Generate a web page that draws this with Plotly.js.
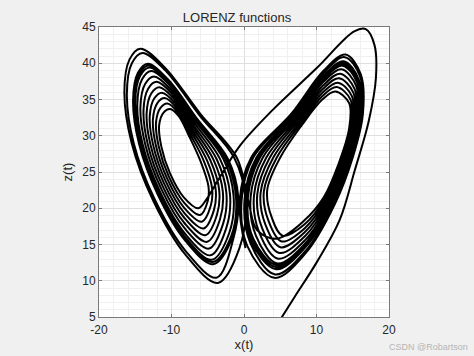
<!DOCTYPE html>
<html>
<head>
<meta charset="utf-8">
<script src="https://cdn.plot.ly/plotly-3.0.1.min.js"></script>
<style>html,body{margin:0;padding:0;background:#f0f0f0;}#chart{width:474px;height:356px;}</style>
</head>
<body>
<div id="chart"></div>
<script>
// Trajectory, in the order it is traced
var transientX = [4.6, 7.0, 10.0, 13.2, 15.3, 17.2, 18.2, 18.0, 16.8, 15.2, 10.0, 4.0, -0.5, -3.5, -5.2];
var transientZ = [4.0, 7.8, 12.5, 18.4, 25.3, 32.0, 38.0, 42.5, 44.7, 44.4, 39.3, 33.6, 28.7, 24.0, 21.2];

var leftX = [
-6.3,-8.3,-10.2,-11.4,-11.7,-11.1,-10.2,-9.0,-7.6,-6.0,-4.9,-5.0,
-6.06,-8.27,-10.41,-11.77,-12.13,-11.52,-10.57,-9.18,-7.46,-5.55,-4.41,-4.58,
-5.81,-8.25,-10.61,-12.14,-12.56,-11.95,-10.94,-9.36,-7.31,-5.10,-3.91,-4.15,
-5.57,-8.22,-10.82,-12.51,-13.00,-12.37,-11.31,-9.54,-7.17,-4.65,-3.42,-3.73,
-5.33,-8.19,-11.03,-12.88,-13.43,-12.79,-11.68,-9.72,-7.02,-4.20,-2.92,-3.31,
-5.09,-8.17,-11.24,-13.25,-13.86,-13.22,-12.05,-9.90,-6.88,-3.75,-2.43,-2.89,
-4.84,-8.14,-11.44,-13.61,-14.29,-13.64,-12.41,-10.08,-6.74,-3.30,-1.93,-2.46,
-4.60,-8.11,-11.65,-13.98,-14.72,-14.06,-12.78,-10.26,-6.59,-2.85,-1.44,-2.04,
-4.44,-8.09,-11.79,-14.23,-15.01,-14.34,-13.03,-10.38,-6.50,-2.55,-1.11,-1.76,
-4.36,-8.08,-11.86,-14.35,-15.16,-14.48,-13.15,-10.44,-6.45,-2.40,-0.94,-1.62,
-4.28,-8.08,-11.93,-14.48,-15.30,-14.63,-13.28,-10.50,-6.40,-2.25,-0.78,-1.48,
-3.79,-8.02,-12.34,-15.21,-16.16,-15.47,-14.01,-10.86,-6.11,-1.35,0.22,-0.63,
-3.6,-8.0,-12.5,-15.5,-16.5,-15.8,-14.3,-11.0,-6.0,-1.0,0.6];
var leftZ = [
20.0,21.5,24.8,28.5,31.5,33.2,33.7,32.7,30.0,26.5,23.0,21.0,
19.07,20.78,24.46,28.55,31.91,33.86,34.45,33.31,30.27,26.55,22.82,20.37,
18.15,20.06,24.12,28.59,32.31,34.51,35.19,33.92,30.54,26.59,22.64,19.74,
17.22,19.34,23.77,28.64,32.72,35.17,35.94,34.54,30.81,26.64,22.46,19.11,
16.29,18.62,23.43,28.68,33.12,35.83,36.69,35.15,31.08,26.68,22.28,18.48,
15.37,17.90,23.09,28.73,33.53,36.49,37.44,35.76,31.35,26.73,22.10,17.85,
14.44,17.18,22.75,28.77,33.93,37.14,38.18,36.37,31.62,26.77,21.92,17.22,
13.51,16.46,22.41,28.82,34.34,37.80,38.93,36.98,31.89,26.82,21.74,16.59,
12.89,15.98,22.18,28.85,34.61,38.24,39.43,37.39,32.07,26.85,21.62,16.17,
12.58,15.74,22.06,28.86,34.74,38.46,39.68,37.60,32.16,26.86,21.56,15.96,
12.28,15.50,21.95,28.88,34.88,38.68,39.93,37.80,32.25,26.88,21.50,15.75,
10.42,14.06,21.27,28.97,35.69,39.99,41.42,39.02,32.79,26.97,21.14,14.49,
9.7,13.5,21.0,29.0,36.0,40.5,42.0,39.5,33.0,27.0,21.0];

var crossX = [1.8, 4.5];
var crossZ = [17.0, 15.8];

var rightX = [
8.3,11.0,13.0,14.5,14.5,12.6,10.8,8.0,5.0,3.2,3.8,
5.34,8.32,11.18,13.24,14.73,14.69,12.77,10.82,7.82,4.52,2.74,3.37,
5.19,8.35,11.36,13.48,14.96,14.88,12.94,10.85,7.64,4.04,2.29,2.94,
5.03,8.37,11.54,13.72,15.18,15.08,13.10,10.87,7.46,3.56,1.83,2.50,
4.88,8.40,11.72,13.96,15.41,15.27,13.27,10.90,7.28,3.08,1.38,2.07,
4.72,8.42,11.90,14.20,15.64,15.46,13.44,10.92,7.10,2.60,0.92,1.64,
4.59,8.44,12.05,14.40,15.83,15.62,13.58,10.94,6.95,2.20,0.54,1.28,
4.54,8.45,12.11,14.48,15.91,15.68,13.64,10.95,6.89,2.04,0.39,1.14,
4.49,8.46,12.17,14.56,15.98,15.75,13.69,10.96,6.83,1.88,0.24,0.99,
4.43,8.46,12.23,14.64,16.06,15.81,13.75,10.96,6.77,1.72,0.08,0.85,
4.29,8.49,12.40,14.86,16.27,15.99,13.90,10.99,6.61,1.28,-0.33,0.45,
4.2,8.5,12.5,15.0,16.4,16.1,14.0,11.0,6.5,1.0,-0.6,0.2];
var rightZ = [
18.3,21.5,26.0,31.0,34.5,36.1,35.0,31.5,27.0,22.5,18.8,
16.21,17.76,21.38,26.12,31.24,34.98,36.71,35.48,31.68,27.0,22.32,18.28,
15.42,17.22,21.26,26.24,31.48,35.46,37.32,35.96,31.86,27.0,22.14,17.77,
14.62,16.68,21.14,26.36,31.72,35.94,37.94,36.44,32.04,27.0,21.96,17.25,
13.83,16.14,21.02,26.48,31.96,36.42,38.55,36.92,32.22,27.0,21.78,16.74,
13.04,15.60,20.90,26.60,32.20,36.90,39.16,37.40,32.40,27.0,21.60,16.22,
12.38,15.15,20.80,26.70,32.40,37.30,39.67,37.80,32.55,27.0,21.45,15.79,
12.12,14.97,20.76,26.74,32.48,37.46,39.87,37.96,32.61,27.0,21.39,15.62,
11.85,14.79,20.72,26.78,32.56,37.62,40.08,38.12,32.67,27.0,21.33,15.45,
11.59,14.61,20.68,26.82,32.64,37.78,40.28,38.28,32.73,27.0,21.27,15.27,
10.86,14.12,20.57,26.93,32.86,38.22,40.84,38.72,32.90,27.0,21.11,14.80,
10.4,13.8,20.5,27.0,33.0,38.5,41.2,39.0,33.0,27.0,21.0,14.5];

var xTicks = [-20, -10, 0, 10, 20];
var zTicks = [5, 10, 15, 20, 25, 30, 35, 40, 45];

var xs = [].concat(transientX, leftX, crossX, rightX);
var zs = [].concat(transientZ, leftZ, crossZ, rightZ);

var fontFam = 'Liberation Sans, Arial, Helvetica, sans-serif';
var axCommon = {
  showgrid: true, gridcolor: '#dedede', gridwidth: 1,
  zeroline: false, showline: true, mirror: 'ticks', linecolor: '#7a7a7a', linewidth: 1,
  ticks: 'inside', ticklen: 3, tickcolor: '#7a7a7a',
  tickfont: {family: fontFam, size: 12, color: '#262626'},
  fixedrange: true
};

var layout = {
  width: 474, height: 356,
  margin: {l: 99, r: 85, t: 27, b: 39},
  paper_bgcolor: '#f0f0f0', plot_bgcolor: '#ffffff',
  showlegend: false,
  title: {text: 'LORENZ functions', font: {family: fontFam, size: 13, color: '#262626'},
          x: 0.5, xref: 'container', y: 0.952, yref: 'container', yanchor: 'middle', xanchor: 'center'},
  xaxis: Object.assign({}, axCommon, {
    range: [-20, 20], tickvals: xTicks, ticktext: xTicks.map(String), ticklabelstandoff: 2,
    minor: {dtick: 2, showgrid: true, gridcolor: '#f0f0f0', ticks: ''},
    title: {text: 'x(t)', font: {family: fontFam, size: 13, color: '#262626'}, standoff: 3}
  }),
  yaxis: Object.assign({}, axCommon, {
    range: [5, 45], tickvals: zTicks, ticktext: zTicks.map(String),
    minor: {dtick: 1, showgrid: true, gridcolor: '#f0f0f0', ticks: ''},
    title: {text: 'z(t)', font: {family: fontFam, size: 13, color: '#262626'}, standoff: 6}
  }),
  annotations: [{
    text: 'CSDN @Robartson', xref: 'paper', yref: 'paper', x: 1.279, y: -0.105,
    xanchor: 'right', yanchor: 'middle', showarrow: false,
    font: {family: fontFam, size: 9, color: '#b4b4b4'}
  }]
};

var trace = {
  x: xs, y: zs, type: 'scatter', mode: 'lines',
  line: {color: '#000000', width: 2, shape: 'spline', smoothing: 1},
  hoverinfo: 'skip'
};

Plotly.newPlot('chart', [trace], layout, {displayModeBar: false, staticPlot: true});
</script>
</body>
</html>
